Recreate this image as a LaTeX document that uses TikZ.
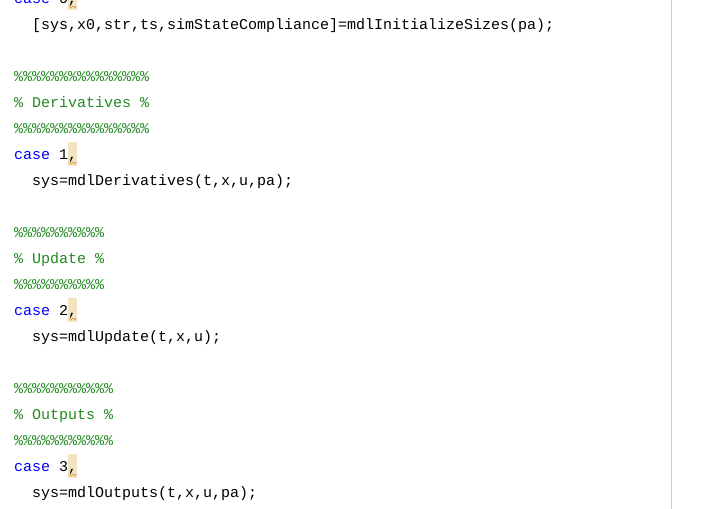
\documentclass[tikz,border=0pt]{standalone}
\usepackage{fontspec}
\setmonofont{Liberation Mono}
\usepackage{tikz}
\usetikzlibrary{positioning}
\definecolor{kwblue}{RGB}{0,0,255}
\definecolor{cmtgreen}{RGB}{34,139,34}
\definecolor{hlbox}{RGB}{242,228,192}
\definecolor{squig}{RGB}{230,140,40}
\begin{document}
\begin{tikzpicture}[x=1pt,y=1pt]
  \tikzstyle{code}=[anchor=base west, inner sep=0pt, font=\fontsize{15}{15}\ttfamily]
  \tikzstyle{kw}=[code, text=kwblue]
  \tikzstyle{cmt}=[code, text=cmtgreen]
  \tikzstyle{hlmark}=[fill=hlbox, draw=none]
  \useasboundingbox (0,0) rectangle (713,-509);
  \fill[white] (0,0) rectangle (713,-509);
  \draw[gray!40] (671,0) -- (671,-509);
  % highlighted commas after the case labels
  \foreach \yy in {2,-154,-310,-466}
    {\fill[hlmark] (68,\yy+12) rectangle (77,\yy-12);
     \draw[squig,line width=0.6pt] (69,\yy-8) -- (71,\yy-10) -- (73,\yy-8) -- (75,\yy-10) -- (76,\yy-8);}
  \node[kw]   (c0)  at (14,-3)  {case \textcolor{black}{0,}};
  \node[code] (s0)  at (32,-29) {[sys,x0,str,ts,simStateCompliance]=mdlInitializeSizes(pa);};
  \node[cmt]  (d1)  at (14,-81)  {\%\%\%\%\%\%\%\%\%\%\%\%\%\%\%};
  \node[cmt]  (d2)  at (14,-107) {\% Derivatives \%};
  \node[cmt]  (d3)  at (14,-133) {\%\%\%\%\%\%\%\%\%\%\%\%\%\%\%};
  \node[kw]   (c1)  at (14,-159) {case \textcolor{black}{1,}};
  \node[code] (s1)  at (32,-185) {sys=mdlDerivatives(t,x,u,pa);};
  \node[cmt]  (u1)  at (14,-237) {\%\%\%\%\%\%\%\%\%\%};
  \node[cmt]  (u2)  at (14,-263) {\% Update \%};
  \node[cmt]  (u3)  at (14,-289) {\%\%\%\%\%\%\%\%\%\%};
  \node[kw]   (c2)  at (14,-315) {case \textcolor{black}{2,}};
  \node[code] (s2)  at (32,-341) {sys=mdlUpdate(t,x,u);};
  \node[cmt]  (o1)  at (14,-393) {\%\%\%\%\%\%\%\%\%\%\%};
  \node[cmt]  (o2)  at (14,-419) {\% Outputs \%};
  \node[cmt]  (o3)  at (14,-445) {\%\%\%\%\%\%\%\%\%\%\%};
  \node[kw]   (c3)  at (14,-471) {case \textcolor{black}{3,}};
  \node[code] (s3)  at (32,-497) {sys=mdlOutputs(t,x,u,pa);};
\end{tikzpicture}
\end{document}
